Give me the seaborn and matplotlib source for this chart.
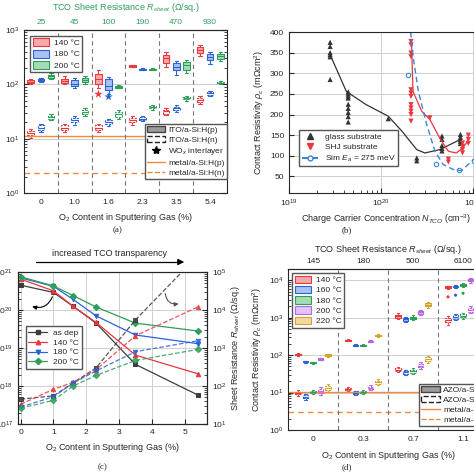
import numpy as np
import pandas as pd
import seaborn as sns
import matplotlib.pyplot as plt
from matplotlib.patches import Patch
from matplotlib.lines import Line2D

sns.set_style('ticks')
plt.rcParams['font.family'] = ['Liberation Sans', 'DejaVu Sans']
plt.rcParams['font.size'] = 6
plt.rcParams['mathtext.fontset'] = 'custom'
plt.rcParams['mathtext.rm'] = 'Liberation Sans'
plt.rcParams['mathtext.it'] = 'Liberation Sans:italic'
plt.rcParams['mathtext.sf'] = 'Liberation Sans'
plt.rcParams['axes.linewidth'] = 0.8

#colours
RED, RED_L = '#e8383d', '#f6a9aa'
BLUE, BLUE_L = '#2a62d8', '#a9c2ef'
GREEN, GREEN_L = '#2e9e5a', '#a6dbb8'
PURPLE, PURPLE_L = '#b865e8', '#e2c4f7'
GOLD, GOLD_L = '#d6a22c', '#f1daa0'
ORANGE = '#f08a3c'
GRAYTXT = '#2e9e5a'

# ---------------- panel (a) data: five-number boxes (min, q1, med, q3, max)
a_o2 = ['0', '1.0', '1.6', '2.3', '3.5', '5.4']
a_rsheet = ['25', '45', '100', '190', '470', '930']
a_p140 = [(100, 106, 112, 118, 125), (100, 108, 115, 125, 140), (85, 100, 125, 155, 185),
          (205, 212, 218, 224, 230), (210, 250, 300, 350, 400), (330, 370, 430, 490, 530)]
a_p180 = [(110, 115, 120, 125, 132), (85, 92, 103, 118, 130), (65, 78, 95, 125, 138),
          (180, 185, 189, 193, 198), (150, 185, 210, 245, 265), (240, 285, 320, 355, 390)]
a_p200 = [(125, 132, 140, 150, 160), (100, 110, 122, 132, 145), (84, 87, 90, 93, 96),
          (183, 187, 191, 195, 199), (160, 185, 225, 260, 285), (270, 295, 335, 365, 400)]
a_n140 = [(10.5, 11.5, 12.5, 14, 15), (13, 14.5, 16, 17.5, 19), (13, 14.5, 16, 17.5, 19),
          (18, 20, 22, 24, 26), (27, 29, 32, 34, 37), (44, 48, 52, 56, 60)]
a_n180 = [(13, 14.5, 16, 17.5, 19), (18, 20, 22, 24, 26), (17, 18.5, 20, 22, 23.5),
          (21, 22.5, 23.5, 25, 26), (31, 33, 36, 39, 41), (60, 64, 68, 72, 76)]
a_n200 = [(22, 23.5, 25, 26.5, 28), (26, 28, 31, 34, 36), (23, 25, 28, 31, 33),
          (34, 36, 38, 40, 42), (50, 53, 56, 59, 62), (100, 104, 108, 112, 116)]
a_star_group = 2
a_star140 = 66
a_star180 = 59
a_metal_p = 11
a_metal_n = 2.3

# ---------------- panel (b) data
b_glass_x = [2.8e19] * 6 + [4.4e19] * 9 + [1.2e20] + [2.45e20] * 2 + [4.6e20] * 5 + [7.3e20] * 5
b_glass_y = [375, 365, 350, 345, 340, 285,
             255, 250, 245, 240, 225, 215, 205, 195, 182,
             190,
             95, 88,
             148, 140, 125, 118, 112,
             152, 145, 140, 135, 130]
b_shj_x = [2.12e20] * 12 + [3.4e20] + [5.4e20] * 2 + [7.7e20] * 4 + [8.9e20] * 3
b_shj_y = [377, 369, 349, 340, 260, 252, 244, 224, 216, 208, 200, 184,
           192,
           92, 85,
           131, 123, 115, 107,
           150, 140, 130]
b_glass_fit_x = [2.8e19, 4.2e19, 6.9e19, 1.2e20, 1.7e20, 2.45e20, 3e20, 4.35e20, 7.2e20]
b_glass_fit_y = [345, 256, 224, 196, 159, 115, 107, 115, 139]
b_shj_fit_x = [2.15e20, 2.23e20, 2.77e20, 3.4e20, 4.35e20, 5.4e20, 6.6e20, 7.8e20, 9.2e20]
b_shj_fit_y = [369, 256, 208, 188, 143, 111, 107, 120, 143]
b_sim_line_x = [2.1e20, 2.25e20, 2.55e20, 3.15e20, 3.86e20, 4.75e20, 6.1e20, 7.5e20, 1e21, 1.3e21]
b_sim_line_y = [400, 336, 256, 175, 111, 79, 67, 64, 90, 110]
b_sim_x = [1.98e20, 4.0e20, 7.1e20, 1.02e21]
b_sim_y = [296, 80, 65, 88]

# ---------------- panel (c) data
c_o2 = [0, 1, 1.6, 2.3, 3.5, 5.4]
c_n_asdep = [4.5e20, 2.9e20, 1.25e20, 4.5e19, 3.7e18, 5.8e17]
c_n_140 = [6.5e20, 3.2e20, 1.25e20, 4.7e19, 6.5e18, 2.1e18]
c_n_180 = [7.0e20, 4.2e20, 1.9e20, 7.0e19, 2.2e19, 1.3e19]
c_n_200 = [7.5e20, 4.3e20, 2.4e20, 1.2e20, 4.5e19, 2.8e19]
c_r_asdep = [45, 55, 120, 300, 5500, 2.7e5]
c_r_140 = [33, 82, 125, 270, 2100, 12000]
c_r_180 = [28, 52, 120, 250, 800, 1550]
c_r_200 = [26, 42, 100, 190, 470, 920]

# ---------------- panel (d) data
d_o2 = ['0', '0.3', '0.7', '1.1']
d_rsheet = ['145', '180', '500', '6100']
d_p140 = [(95, 100, 104, 108, 113), (235, 244, 250, 258, 265), (900, 1000, 1100, 1200, 1300), (6000, 6300, 6600, 6900, 7200)]
d_p160 = [(62, 64, 66, 68, 70), (172, 178, 185, 192, 198), (760, 840, 900, 980, 1050), (6200, 6500, 6800, 7100, 7400)]
d_p180 = [(59, 61, 63, 65, 67), (175, 180, 185, 190, 196), (850, 930, 990, 1060, 1150), (6800, 7200, 7600, 8000, 8500)]
d_p200 = [(72, 75, 78, 82, 85), (220, 228, 235, 242, 250), (1150, 1270, 1380, 1500, 1650), (8500, 9300, 10000, 10800, 11500)]
d_p220 = [(90, 95, 100, 105, 110), (310, 325, 340, 355, 370), (1800, 2050, 2230, 2450, 2700), (10500, 11500, 12500, 13500, 14500)]
d_n140 = [(8, 9, 9.5, 10.5, 11.5), (11, 11.8, 12.4, 13.2, 14), (35, 38, 41, 44, 47), (650, 760, 860, 960, 1100)]
d_n160 = [(6.3, 7, 7.7, 8.4, 9), (8.8, 9.4, 10, 10.7, 11.3), (30, 32, 35, 37, 40), (850, 950, 1050, 1150, 1250)]
d_n180 = [(9, 9.8, 10.5, 11.2, 12), (9.3, 10, 10.5, 11.2, 12), (31, 34, 37, 40, 44), (900, 1020, 1130, 1240, 1350)]
d_n200 = [(8.5, 9.8, 11, 12.3, 14), (11.5, 12.5, 13.5, 14.5, 15.5), (42, 47, 52, 58, 64), (1300, 1450, 1600, 1800, 2000)]
d_n220 = [(10.5, 12, 13.5, 15, 17), (15.5, 17, 18.7, 20.5, 22.5), (62, 70, 78, 87, 96), (1600, 1800, 2000, 2250, 2500)]
d_dot_group = 3
d_dot140 = 3600
d_dot160 = 4000
d_dot180 = 4500
d_metal_p = 10.5
d_metal_n = 3.0


def draw_boxes(ax, data, offset, col, face, dashed, width):
    pos, val = [], []
    for gi, five in enumerate(data):
        for v in five:
            pos.append(gi + offset)
            val.append(v)
    df = pd.DataFrame({'pos': pos, 'val': val})
    if dashed:
        ls = (0, (2, 1.2))
        sns.boxplot(data=df, x='pos', y='val', native_scale=True, ax=ax, width=width,
                    whis=(0, 100), fill=False, color=col, linecolor=col, linewidth=0.8,
                    boxprops={'linestyle': ls}, whiskerprops={'linestyle': ls})
    else:
        sns.boxplot(data=df, x='pos', y='val', native_scale=True, ax=ax, width=width,
                    whis=(0, 100), fill=True, color=face, saturation=1, linecolor=col,
                    linewidth=0.8)


def decade_labels(ax, axis, exps):
    ticks = [10.0 ** e for e in exps]
    labels = ['$10^{%d}$' % e for e in exps]
    if axis == 'y':
        ax.set_yticks(ticks)
        ax.set_yticklabels(labels)
    else:
        ax.set_xticks(ticks)
        ax.set_xticklabels(labels)


rho_label = 'Contact Resistivity $\\rho_c$ (m$\\Omega$cm$^2$)'
o2_label = 'O$_2$ Content in Sputtering Gas (%)'
rsh_label = 'TCO Sheet Resistance $R_{sheet}$ ($\\Omega$/sq.)'

fig = plt.figure(figsize=(4.74, 4.74), dpi=100)
axa = fig.add_axes([24 / 474, 1 - 193 / 474, 203 / 474, 163 / 474])
axb = fig.add_axes([289 / 474, 1 - 193 / 474, 195 / 474, 161 / 474])
axc = fig.add_axes([18 / 474, 1 - 424 / 474, 189 / 474, 152 / 474])
axd = fig.add_axes([288 / 474, 1 - 430 / 474, 200 / 474, 161 / 474])

# ================= (a)
axa.set_yscale('log')
a_off = [-0.3, 0.0, 0.3]
for vals, o, c, f in [(a_p140, a_off[0], RED, RED_L), (a_p180, a_off[1], BLUE, BLUE_L), (a_p200, a_off[2], GREEN, GREEN_L)]:
    draw_boxes(axa, vals, o, c, f, False, 0.2)
for vals, o, c, f in [(a_n140, a_off[0], RED, RED_L), (a_n180, a_off[1], BLUE, BLUE_L), (a_n200, a_off[2], GREEN, GREEN_L)]:
    draw_boxes(axa, vals, o, c, f, True, 0.2)
sns.scatterplot(x=[a_star_group + a_off[0]], y=[a_star140], marker='*', s=40, color=RED, edgecolor='none', ax=axa)
sns.scatterplot(x=[a_star_group + a_off[1]], y=[a_star180], marker='*', s=40, color=BLUE, edgecolor='none', ax=axa)
axa.axhline(a_metal_p, color=ORANGE, lw=1.0)
axa.axhline(a_metal_n, color=ORANGE, lw=1.0, ls=(0, (4, 3)))
for xv in np.arange(0.5, len(a_o2) - 1, 1.0):
    axa.axvline(xv, color='#777777', lw=0.8, ls=(0, (4, 3)))
axa.set_xlim(-0.5, len(a_o2) - 0.5)
axa.set_ylim(1, 1000)
axa.set_xticks(range(len(a_o2)))
axa.set_xticklabels(a_o2)
decade_labels(axa, 'y', [0, 1, 2, 3])
axa.grid(axis='y', which='major', color='#cfcfcf', lw=0.7)
axa.set_axisbelow(True)
axa.tick_params(which='both', direction='in', right=True, labelsize=6)
axa.tick_params(axis='x', length=0, pad=4)
axa.set_xlabel(o2_label, fontsize=6.5, labelpad=4)
axa.set_ylabel(rho_label, fontsize=6.5, labelpad=1)
topa = axa.secondary_xaxis('top')
topa.set_xticks(range(len(a_o2)))
topa.set_xticklabels(a_rsheet, color=GRAYTXT)
topa.tick_params(length=0, pad=3, labelsize=6)
topa.set_xlabel(rsh_label, color=GRAYTXT, fontsize=6.5, labelpad=6)
leg1 = axa.legend(handles=[Patch(facecolor=RED_L, edgecolor=RED, lw=0.8, label='140 °C'),
                           Patch(facecolor=BLUE_L, edgecolor=BLUE, lw=0.8, label='180 °C'),
                           Patch(facecolor=GREEN_L, edgecolor=GREEN, lw=0.8, label='200 °C')],
                  loc='upper left', bbox_to_anchor=(0.01, 0.99), fontsize=6, frameon=True,
                  fancybox=False, edgecolor='#555555', framealpha=1, handlelength=2.0,
                  handleheight=1.1, borderpad=0.3, labelspacing=0.3, handletextpad=0.5)
axa.add_artist(leg1)
axa.legend(handles=[Patch(facecolor='#9c9c9c', edgecolor='#444444', lw=1, label='ITO/a-Si:H(p)'),
                    Patch(facecolor='white', edgecolor='#222222', lw=1, ls='--', label='ITO/a-Si:H(n)'),
                    Line2D([], [], marker='*', color='k', ls='none', markersize=6, label='WO$_x$ interlayer'),
                    Line2D([], [], color=ORANGE, lw=1, label='metal/a-Si:H(p)'),
                    Line2D([], [], color=ORANGE, lw=1, ls='--', label='metal/a-Si:H(n)')],
           loc='lower right', bbox_to_anchor=(1.02, 0.06), fontsize=6, frameon=True,
           fancybox=False, edgecolor='#555555', framealpha=1, handlelength=2.2,
           borderpad=0.25, labelspacing=0.25, handletextpad=0.4)

# ================= (b)
axb.set_xscale('log')
sns.lineplot(x=b_glass_fit_x, y=b_glass_fit_y, sort=False, color='#333333', lw=0.9, ax=axb)
sns.lineplot(x=b_shj_fit_x, y=b_shj_fit_y, sort=False, color=RED, lw=0.9, ax=axb)
sns.lineplot(x=b_sim_line_x, y=b_sim_line_y, sort=False, color='#3a86d4', lw=1.0, ls=(0, (4, 2.5)), ax=axb)
sns.scatterplot(x=b_glass_x, y=b_glass_y, marker='^', s=14, color='#333333', edgecolor='none', ax=axb)
sns.scatterplot(x=b_shj_x, y=b_shj_y, marker='v', s=14, color=RED, edgecolor='none', ax=axb)
sns.scatterplot(x=b_sim_x, y=b_sim_y, marker='o', s=10, facecolor='white', edgecolor='#3a86d4', linewidth=0.8, ax=axb)
axb.set_xlim(1e19, 10 ** 21.12)
axb.set_ylim(10, 400)
axb.set_yticks(range(50, 401, 50))
decade_labels(axb, 'x', [19, 20, 21])
axb.grid(which='major', color='#cfcfcf', lw=0.7)
axb.set_axisbelow(True)
axb.tick_params(which='both', direction='in', labelsize=6)
axb.set_xlabel('Charge Carrier Concentration $N_{TCO}$ (cm$^{-3}$)', fontsize=6.5, labelpad=2)
axb.set_ylabel(rho_label, fontsize=6.5, labelpad=3)
axb.legend(handles=[Line2D([], [], marker='^', color='#333333', ls='none', markersize=4, label='glass substrate'),
                    Line2D([], [], marker='v', color=RED, ls='none', markersize=4, label='SHJ substrate'),
                    Line2D([], [], marker='o', color='#3a86d4', mfc='white', ls='--', markersize=3.5, label='Sim $E_a$ = 275 meV')],
           loc='lower left', bbox_to_anchor=(0.03, 0.14), fontsize=6, frameon=True, fancybox=False,
           edgecolor='#555555', framealpha=1, handlelength=2.0, borderpad=0.3, labelspacing=0.3)

# ================= (c)
axc.set_yscale('log')
axc2 = axc.twinx()
axc2.set_yscale('log')
c_series = [(c_n_asdep, c_r_asdep, '#3c3c3c', 's', 'as dep'),
            (c_n_140, c_r_140, RED, '^', '140 °C'),
            (c_n_180, c_r_180, BLUE, 'v', '180 °C'),
            (c_n_200, c_r_200, GREEN, 'D', '200 °C')]
for n_vals, r_vals, col, mk, lab in c_series:
    sns.lineplot(x=c_o2, y=n_vals, color=col, marker=mk, markersize=3.2, markeredgecolor=col, lw=0.9, ax=axc)
    sns.lineplot(x=c_o2, y=r_vals, color=col, marker=mk, markersize=3.2, markeredgecolor=col, lw=0.9, ls='--', alpha=0.85, ax=axc2)
axc.set_xlim(-0.08, 5.68)
axc.set_ylim(1e17, 1e21)
axc2.set_ylim(1e1, 1e5)
axc.set_xticks(range(6))
decade_labels(axc, 'y', [17, 18, 19, 20, 21])
decade_labels(axc2, 'y', [1, 2, 3, 4, 5])
axc.grid(which='major', color='#cfcfcf', lw=0.7)
axc.set_axisbelow(True)
axc.tick_params(which='both', direction='in', labelsize=6)
axc2.tick_params(which='both', direction='in', labelsize=6)
axc.set_xlabel(o2_label, fontsize=6.5, labelpad=4)
axc.set_ylabel('Charge Carrier Concentration $N_{TCO}$ (cm$^{-3}$)', fontsize=6.5)
axc2.set_ylabel('Sheet Resistance $R_{sheet}$ ($\\Omega$/sq.)', fontsize=6.5, labelpad=2)
axc.legend(handles=[Line2D([], [], color=col, marker=mk, markersize=3.2, lw=0.9, label=lab)
                    for _, _, col, mk, lab in c_series],
           loc='upper left', bbox_to_anchor=(0.02, 0.67), fontsize=6, frameon=True, fancybox=False,
           edgecolor='#555555', framealpha=1, handlelength=2.2, borderpad=0.3, labelspacing=0.25)
axc.annotate('', xy=(0.27, 1.3e20), xytext=(1.0, 2.6e20),
             arrowprops=dict(arrowstyle='-|>', color='k', lw=0.8, connectionstyle='arc3,rad=-0.5', mutation_scale=6))
axc.annotate('', xy=(4.9, 1.5e20), xytext=(4.4, 3.2e20),
             arrowprops=dict(arrowstyle='-|>', color='#555555', lw=0.8, connectionstyle='arc3,rad=0.6', mutation_scale=6))
fig.add_artist(plt.Line2D([36 / 474, 180 / 474], [1 - 262 / 474, 1 - 262 / 474], color='k', lw=0.9))
axc.annotate('', xy=(187 / 474, 1 - 262 / 474), xytext=(175 / 474, 1 - 262 / 474), xycoords='figure fraction',
             arrowprops=dict(arrowstyle='-|>', color='k', lw=0.9, mutation_scale=9))
fig.text(109 / 474, 1 - 254 / 474, 'increased TCO transparency', ha='center', va='center', fontsize=6.5)

# ================= (d)
axd.set_yscale('log')
d_off = [-0.3, -0.15, 0.0, 0.15, 0.3]
d_cols = [(RED, RED_L), (BLUE, BLUE_L), (GREEN, GREEN_L), (PURPLE, PURPLE_L), (GOLD, GOLD_L)]
for vals, o, (c, f) in zip([d_p140, d_p160, d_p180, d_p200, d_p220], d_off, d_cols):
    draw_boxes(axd, vals, o, c, f, False, 0.11)
for vals, o, (c, f) in zip([d_n140, d_n160, d_n180, d_n200, d_n220], d_off, d_cols):
    draw_boxes(axd, vals, o, c, f, True, 0.11)
for v, o, (c, f) in zip([d_dot140, d_dot160, d_dot180], d_off, d_cols):
    sns.scatterplot(x=[d_dot_group + o], y=[v], s=5, color=c, edgecolor='none', ax=axd)
axd.axhline(d_metal_p, color=ORANGE, lw=1.0)
axd.axhline(d_metal_n, color=ORANGE, lw=1.0, ls=(0, (4, 3)))
for xv in np.arange(0.5, len(d_o2) - 1, 1.0):
    axd.axvline(xv, color='#777777', lw=0.8, ls=(0, (4, 3)))
axd.set_xlim(-0.5, len(d_o2) - 0.5)
axd.set_ylim(1, 2e4)
axd.set_xticks(range(len(d_o2)))
axd.set_xticklabels(d_o2)
decade_labels(axd, 'y', [0, 1, 2, 3, 4])
axd.grid(axis='y', which='major', color='#cfcfcf', lw=0.7)
axd.set_axisbelow(True)
axd.tick_params(which='both', direction='in', right=True, labelsize=6)
axd.tick_params(axis='x', length=0, pad=4)
axd.set_xlabel(o2_label, fontsize=6.5, labelpad=5)
axd.set_ylabel(rho_label, fontsize=6.5, labelpad=3)
topd = axd.secondary_xaxis('top')
topd.set_xticks(range(len(d_o2)))
topd.set_xticklabels(d_rsheet)
topd.tick_params(length=0, pad=3, labelsize=6)
topd.set_xlabel(rsh_label, fontsize=6.5, labelpad=4)
leg2 = axd.legend(handles=[Patch(facecolor=f, edgecolor=c, lw=0.8, label=t)
                           for (c, f), t in zip(d_cols, ['140 °C', '160 °C', '180 °C', '200 °C', '220 °C'])],
                  loc='upper left', bbox_to_anchor=(0.0, 1.0), fontsize=6, frameon=True,
                  fancybox=False, edgecolor='#555555', framealpha=1, handlelength=2.0,
                  handleheight=1.0, borderpad=0.3, labelspacing=0.2, handletextpad=0.5)
axd.add_artist(leg2)
axd.legend(handles=[Patch(facecolor='#9c9c9c', edgecolor='#444444', lw=1, label='AZO/a-Si:H(p)'),
                    Patch(facecolor='white', edgecolor='#222222', lw=1, ls='--', label='AZO/a-Si:H(n)'),
                    Line2D([], [], color=ORANGE, lw=1, label='metal/a-Si:H(p)'),
                    Line2D([], [], color=ORANGE, lw=1, ls='--', label='metal/a-Si:H(n)')],
           loc='lower left', bbox_to_anchor=(0.635, 0.0), fontsize=6, frameon=True,
           fancybox=False, edgecolor='#555555', framealpha=1, handlelength=2.2,
           borderpad=0.25, labelspacing=0.25, handletextpad=0.4)

fig.text(118 / 474, 1 - 230 / 474, '(a)', ha='center', va='center', fontsize=6.5, family='Liberation Serif')
fig.text(347 / 474, 1 - 230 / 474, '(b)', ha='center', va='center', fontsize=6.5, family='Liberation Serif')
fig.text(103 / 474, 1 - 467 / 474, '(c)', ha='center', va='center', fontsize=6.5, family='Liberation Serif')
fig.text(347 / 474, 1 - 467 / 474, '(d)', ha='center', va='center', fontsize=6.5, family='Liberation Serif')

fig.savefig('out.png', dpi=100)
